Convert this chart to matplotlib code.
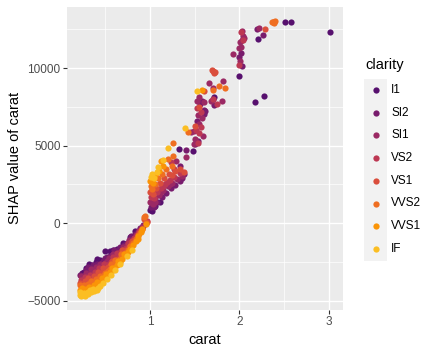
import matplotlib
matplotlib.use("Agg")
import matplotlib.pyplot as plt
from matplotlib.patches import Rectangle
from matplotlib.lines import Line2D

# clarity levels, worst to best (legend order)
clarity_levels = ["I1", "SI2", "SI1", "VS2", "VS1", "VVS2", "VVS1", "IF"]

# (carat, SHAP value of carat) pairs, per clarity
i1_pts = [
    (0.26, -3170), (0.30, -2900), (0.32, -2650), (0.39, -2520), (0.41, -2330),
    (0.50, -1810), (0.55, -1800), (0.63, -1650), (0.70, -1300), (0.77, -900),
    (0.83, -500), (0.24, -3200), (0.35, -2700), (0.44, -2350), (0.58, -1700),
    (0.28, -2850),
    (1.00, 850), (1.02, 800), (1.06, 1100), (1.11, 1400),
    (1.48, 4660), (1.32, 4790), (2.17, 7830), (2.28, 8220), (2.51, 12940),
    (2.58, 13000), (3.02, 12300), (2.21, 11900), (2.00, 9520), (1.72, 8150),
]
si2_pts = [
    (0.25, -3550), (0.29, -3200), (0.33, -3000), (0.37, -2880), (0.42, -2720),
    (0.47, -2450), (0.52, -2200), (0.57, -2020), (0.62, -1850), (0.68, -1560),
    (0.74, -1250), (0.80, -900), (0.86, -480), (0.92, -90),
    (0.27, -3350), (0.35, -2950), (0.45, -2600), (0.55, -2100), (0.65, -1700),
    (0.71, -1400), (0.77, -1080), (0.83, -700), (0.89, -280),
    (0.22, -3300), (0.28, -3000), (0.31, -2800), (0.36, -2700), (0.40, -2600),
    (0.49, -2250), (0.60, -1750), (0.66, -1500), (0.79, -800),
    (1.01, 1050), (1.04, 1050), (1.08, 1350), (1.13, 1700), (1.18, 1950),
    (1.23, 2250), (1.28, 2450), (1.33, 2700), (1.38, 3150), (1.36, 2950),
    (1.40, 4700), (1.50, 5100), (1.54, 5300), (1.60, 7300), (1.58, 7900),
    (1.52, 6600), (1.56, 7700), (1.62, 7250), (1.60, 7050), (1.70, 8020),
    (1.72, 7630), (2.02, 10990), (2.00, 10740), (2.03, 10160), (2.26, 12160),
    (2.20, 12550), (1.34, 3690),
]
si1_pts = [
    (0.25, -3750), (0.29, -3450), (0.33, -3250), (0.37, -3100), (0.42, -2950),
    (0.47, -2700), (0.52, -2450), (0.57, -2250), (0.62, -2050), (0.68, -1750),
    (0.74, -1400), (0.80, -1050), (0.86, -620), (0.92, -180),
    (0.27, -3600), (0.31, -3350), (0.35, -3200), (0.40, -3030), (0.45, -2820),
    (0.50, -2560), (0.60, -2150), (0.66, -1850), (0.72, -1530), (0.78, -1180),
    (0.84, -760), (0.90, -330),
    (0.23, -3400), (0.28, -3200), (0.34, -2950), (0.39, -2800), (0.44, -2600),
    (0.54, -2250), (0.59, -1950), (0.70, -1500), (0.76, -1050),
    (1.00, 1350), (1.03, 1250), (1.06, 1600), (1.10, 1850), (1.15, 2150),
    (1.20, 2400), (1.25, 2600), (1.30, 2850), (1.36, 3050), (1.05, 1400),
    (1.12, 2000), (1.22, 2550),
    (1.55, 8150), (1.53, 7900), (1.54, 7000), (1.58, 6800), (1.55, 6400),
    (1.50, 5400), (1.59, 5600), (1.49, 5100), (1.40, 4270), (1.29, 4010),
    (1.66, 9060), (1.71, 8730), (1.82, 9180), (1.81, 7890), (1.68, 7890),
    (1.60, 7830), (1.93, 10930), (2.03, 12360), (2.04, 12100), (2.05, 11950),
    (2.03, 11780), (2.01, 11700), (2.02, 11390), (2.00, 11320), (2.01, 10480),
    (2.22, 12600), (1.46, 5890), (1.49, 5950),
]
vs2_pts = [
    (0.24, -4000), (0.28, -3700), (0.32, -3550), (0.36, -3400), (0.41, -3250),
    (0.46, -2970), (0.51, -2720), (0.56, -2470), (0.61, -2250), (0.67, -1930),
    (0.73, -1580), (0.79, -1200), (0.85, -760), (0.91, -280), (0.96, 150),
    (0.26, -3850), (0.30, -3620), (0.34, -3480), (0.39, -3330), (0.44, -3100),
    (0.49, -2850), (0.54, -2600), (0.59, -2350), (0.64, -2100), (0.70, -1750),
    (0.76, -1400), (0.82, -980), (0.88, -520),
    (0.23, -3650), (0.27, -3450), (0.33, -3300), (0.38, -3150), (0.43, -2900),
    (0.48, -2650), (0.58, -2150), (0.63, -1900), (0.75, -1250),
    (1.01, 1700), (1.04, 1600), (1.08, 2000), (1.12, 2250), (1.17, 2550),
    (1.22, 2800), (1.27, 3000), (1.33, 3250), (1.14, 2400), (1.19, 2650),
    (1.57, 7200), (1.53, 7450), (1.57, 6200), (1.51, 6000), (1.55, 5800),
    (1.54, 5200), (1.27, 3490), (1.23, 3950), (1.71, 8020), (2.04, 11780),
    (2.02, 12300), (1.75, 7700), (2.00, 10200),
]
vs1_pts = [
    (0.24, -4200), (0.28, -3950), (0.32, -3800), (0.36, -3650), (0.41, -3500),
    (0.46, -3220), (0.51, -2950), (0.56, -2700), (0.61, -2450), (0.67, -2100),
    (0.73, -1730), (0.79, -1330), (0.85, -870), (0.91, -350), (0.96, 80),
    (0.26, -4050), (0.30, -3870), (0.34, -3720), (0.38, -3580), (0.43, -3380),
    (0.48, -3100), (0.53, -2830), (0.58, -2580), (0.64, -2280), (0.70, -1920),
    (0.76, -1530), (0.82, -1100), (0.88, -600), (0.93, 300),
    (0.22, -3850), (0.27, -3700), (0.31, -3550), (0.37, -3400), (0.42, -3150),
    (0.47, -2900), (0.57, -2400), (0.69, -1700), (0.80, -1150),
    (1.00, 2000), (1.03, 1900), (1.07, 2300), (1.11, 2600), (1.16, 2900),
    (1.21, 3200), (1.28, 3400), (1.34, 3500), (1.02, 2150), (1.24, 3100),
    (1.71, 9830), (1.73, 9770), (1.69, 9850), (1.72, 9700), (1.50, 6300),
    (1.55, 7500), (1.60, 8540), (2.29, 12550), (2.38, 12950), (1.38, 3300),
]
vvs2_pts = [
    (0.23, -4390), (0.27, -4220), (0.31, -4080), (0.35, -3960), (0.40, -3780),
    (0.45, -3520), (0.50, -3220), (0.55, -2940), (0.60, -2660), (0.66, -2300),
    (0.72, -1910), (0.78, -1490), (0.84, -1020), (0.90, -480), (0.95, 0),
    (0.93, 420), (0.94, 480),
    (0.25, -4300), (0.29, -4150), (0.33, -4020), (0.38, -3860), (0.43, -3640),
    (0.48, -3360), (0.53, -3060), (0.58, -2780), (0.63, -2480), (0.69, -2100),
    (0.75, -1700), (0.81, -1250), (0.87, -750),
    (0.22, -4000), (0.26, -3950), (0.30, -3900), (0.34, -3750), (0.39, -3600),
    (0.44, -3380), (0.56, -2600), (0.61, -2350), (0.67, -2000),
    (1.01, 2400), (1.02, 2200), (1.05, 2500), (1.09, 2900), (1.13, 3200),
    (1.18, 3500), (1.25, 3700),
    (1.26, 5180), (1.26, 4330), (1.20, 4140), (1.77, 8860), (1.84, 8730),
    (1.70, 8600), (1.42, 5890), (2.37, 12980), (2.40, 13050), (2.39, 12900),
]
vvs1_pts = [
    (0.23, -4560), (0.27, -4440), (0.31, -4330), (0.35, -4220), (0.40, -4080),
    (0.45, -3770), (0.50, -3480), (0.55, -3170), (0.60, -2860), (0.66, -2470),
    (0.72, -2070), (0.78, -1630), (0.84, -1140), (0.90, -560), (0.95, -60),
    (0.25, -4500), (0.29, -4380), (0.33, -4280), (0.38, -4150), (0.43, -3900),
    (0.48, -3620), (0.53, -3320), (0.58, -3020), (0.63, -2670), (0.69, -2270),
    (0.75, -1850), (0.81, -1390), (0.87, -850),
    (0.22, -4300), (0.24, -4150), (0.28, -4250), (0.32, -4100), (0.37, -3950),
    (0.41, -3800), (0.46, -3550), (0.51, -3250), (0.57, -2850), (0.64, -2400),
    (0.71, -1950), (0.86, -1000), (0.91, -350),
    (1.00, 2700), (1.03, 2600), (1.06, 3100), (1.10, 3400), (1.15, 3700),
    (1.58, 8600), (1.12, 4010),
]
if_pts = [
    (0.23, -4700), (0.25, -4620), (0.27, -4660), (0.29, -4520), (0.31, -4560),
    (0.34, -4430), (0.37, -4380), (0.40, -4280), (0.44, -4050), (0.52, -3600),
    (0.61, -3000), (0.74, -2100), (0.24, -4550),
    (0.21, -4600), (0.22, -4450), (0.26, -4500), (0.30, -4400), (0.33, -4300),
    (0.36, -4250), (0.42, -4150), (0.47, -3850), (0.56, -3300), (0.66, -2650),
    (0.80, -1700),
    (1.01, 3000), (1.02, 3200), (1.04, 2900), (1.08, 3300),
    (1.09, 3620), (1.14, 4080), (1.20, 4850), (1.39, 6150), (1.53, 8540),
]

groups = [i1_pts, si2_pts, si1_pts, vs2_pts, vs1_pts, vvs2_pts, vvs1_pts, if_pts]

# viridis "inferno", begin 0.25, end 0.85 (shapviz default)
cmap = plt.get_cmap("inferno")
colors = [cmap(0.25 + 0.6 * k / 7) for k in range(8)]

W, H = 440, 355
fig = plt.figure(figsize=(W / 100, H / 100), dpi=100)
ax = fig.add_axes([67 / W, 1 - 310 / H, (343 - 67) / W, (310 - 7) / H])
ax.set_facecolor("#EBEBEB")

for pts, col in zip(groups, colors):
    xs = [p[0] for p in pts]
    ys = [p[1] for p in pts]
    ax.scatter(xs, ys, s=20, color=col, linewidths=0, zorder=3)

ax.margins(x=0.05, y=0.05)
ax.set_xticks([1, 2, 3])
ax.set_xticks([0.5, 1.5, 2.5], minor=True)
ax.set_yticks([-5000, 0, 5000, 10000])
ax.set_yticks([-2500, 2500, 7500, 12500], minor=True)
ax.grid(which="major", color="white", linewidth=1.0)
ax.grid(which="minor", color="white", linewidth=0.5)
ax.set_axisbelow(True)
for sp in ax.spines.values():
    sp.set_visible(False)
ax.tick_params(which="major", length=2.6, width=0.8, color="#333333",
               labelsize=8.5, labelcolor="#4D4D4D", pad=2)
ax.tick_params(which="minor", length=0)
for lab in ax.get_xticklabels() + ax.get_yticklabels():
    lab.set_family(["Liberation Sans", "DejaVu Sans"])

fig.text(205 / W, 1 - 340 / H, "carat", ha="center", va="center",
         fontsize=10.5, family=["Liberation Sans", "DejaVu Sans"])
fig.text(15 / W, 1 - 158 / H, "SHAP value of carat", ha="center", va="center",
         rotation=90, fontsize=10.5, family=["Liberation Sans", "DejaVu Sans"])

# legend drawn by hand to match ggplot's key layout
fig.text(365 / W, 1 - 65 / H, "clarity", ha="left", va="center",
         fontsize=10.5, family=["Liberation Sans", "DejaVu Sans"])
fig.add_artist(Rectangle((364 / W, 1 - 261 / H), 23 / W, 182 / H,
                         transform=fig.transFigure, facecolor="#F2F2F2",
                         edgecolor="none"))
for k, (name, col) in enumerate(zip(clarity_levels, colors)):
    yc = 1 - (90 + 22.7 * k) / H
    fig.add_artist(Line2D([376 / W], [yc], marker="o", markersize=4.5,
                          color=col, markeredgewidth=0, linestyle="none",
                          transform=fig.transFigure))
    fig.text(391 / W, yc, name, ha="left", va="center", fontsize=8.5,
             family=["Liberation Sans", "DejaVu Sans"])

fig.savefig("out.png", dpi=100)
